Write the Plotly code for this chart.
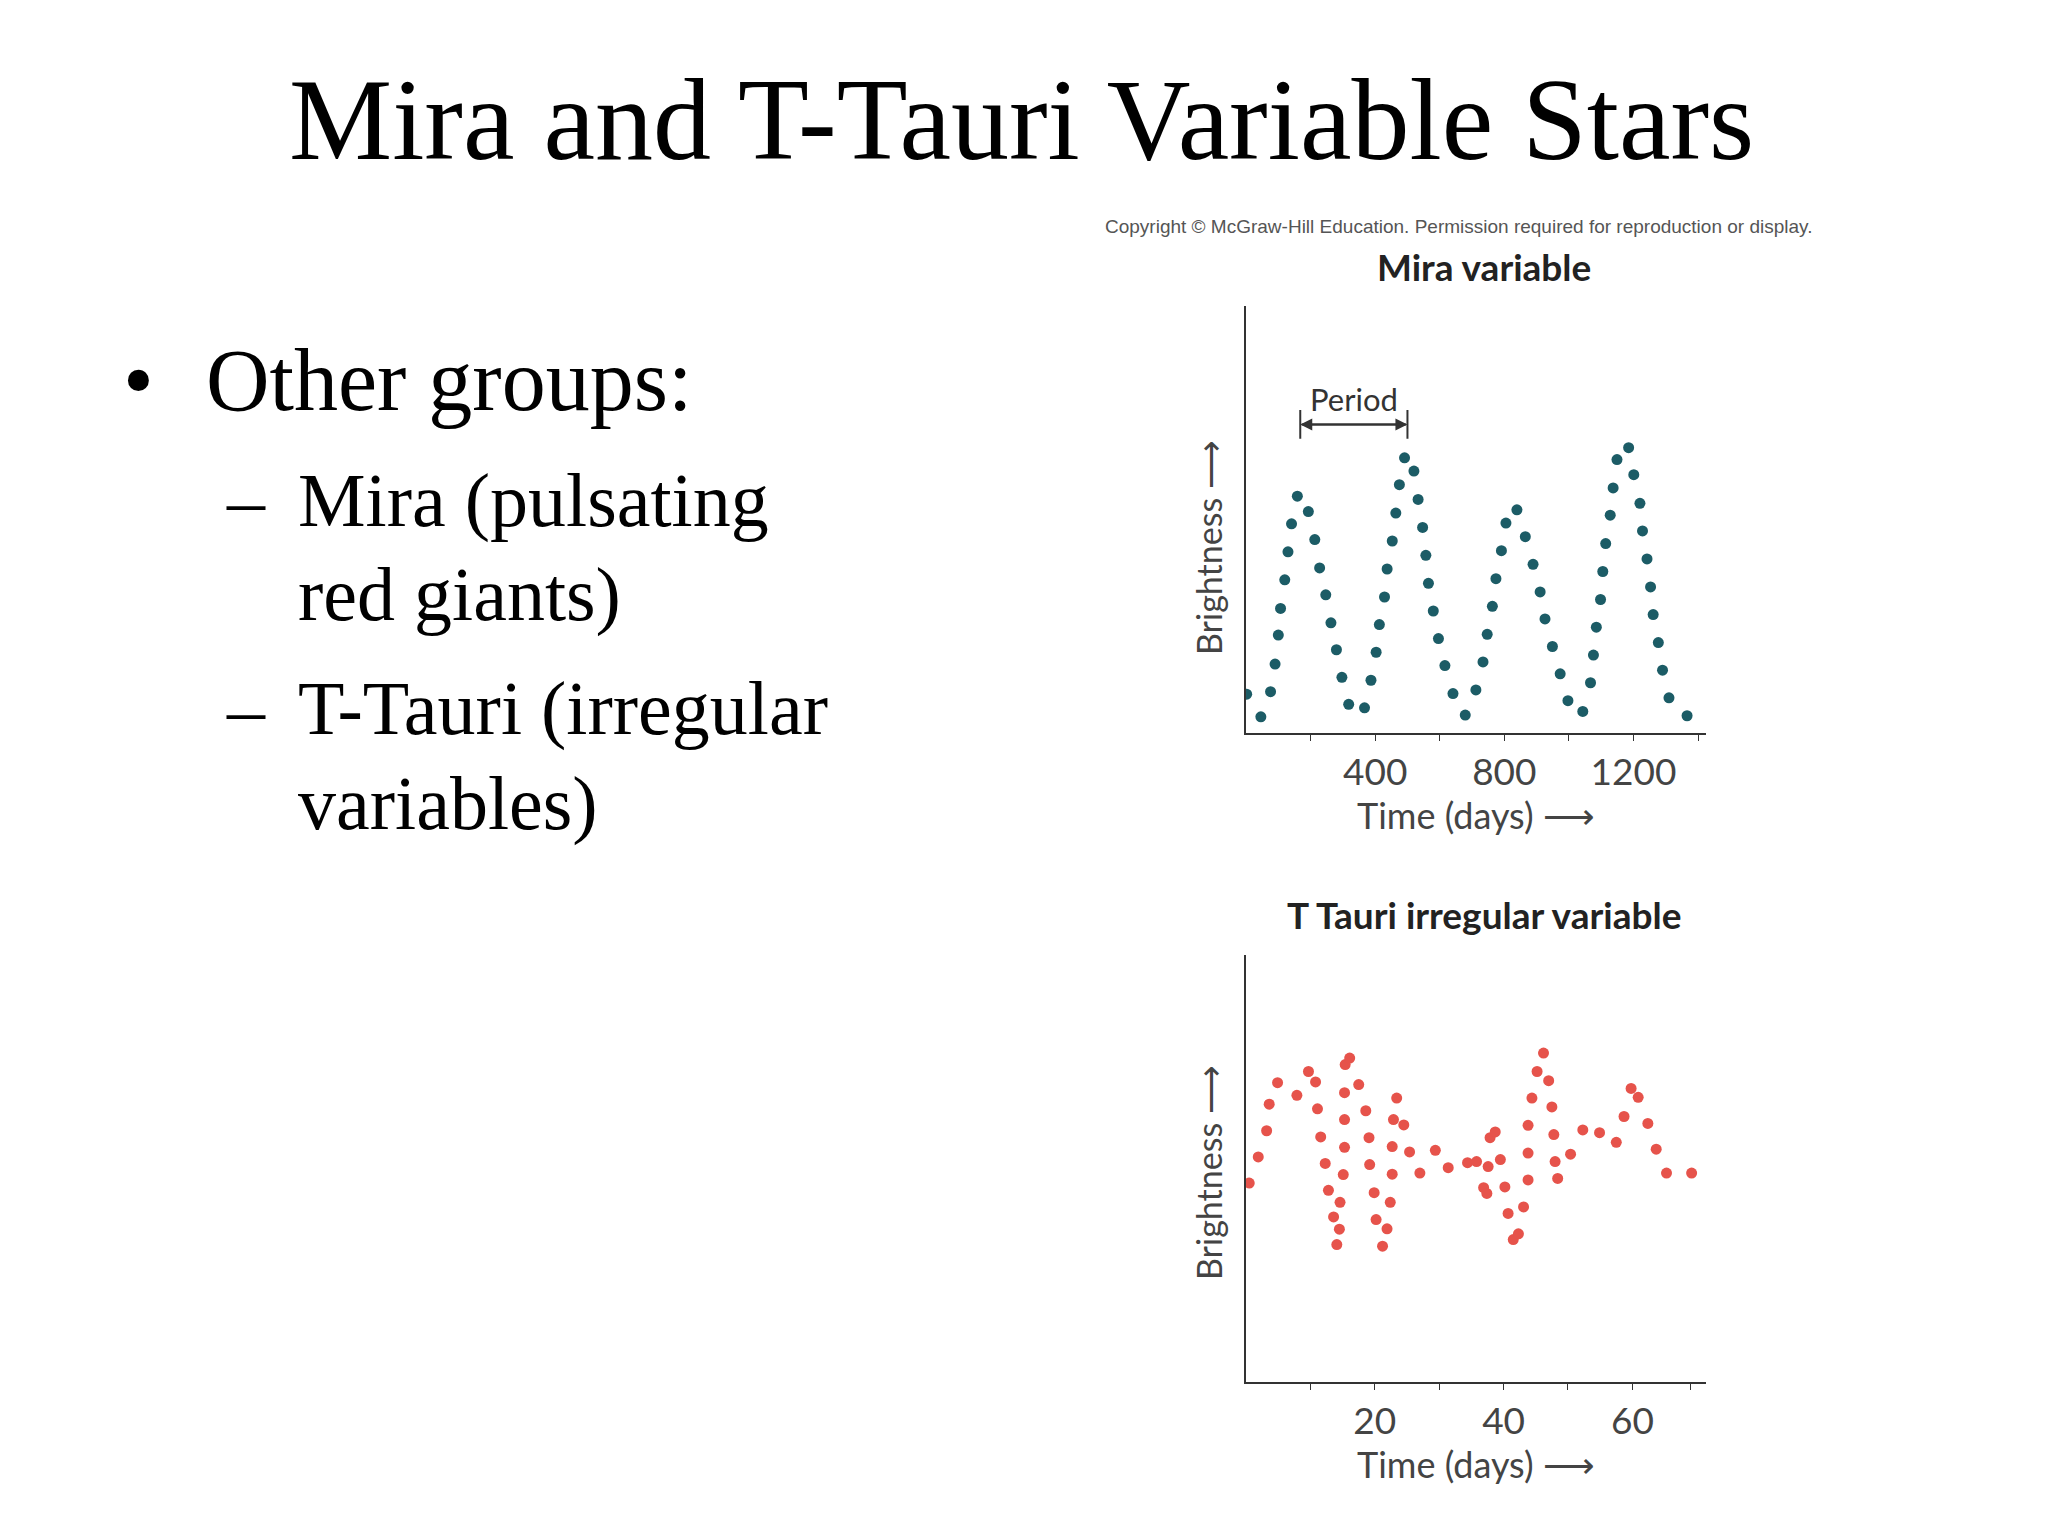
import plotly.graph_objects as go

mira_days = [2,46,76,90,100,107,120,130,141,159,193,213,228,247,263,280,297,318,367,387,403,413,429,437,453,464,475,491,520,533,547,557,565,580,596,616,641,679,712,734,747,763,774,791,805,839,865,889,911,926,949,973,997,1043,1067,1076,1085,1098,1105,1114,1128,1137,1149,1185,1201,1220,1228,1242,1253,1261,1277,1290,1310,1366]
mira_bright = [10.8,4.5,11.5,19.2,27.3,34.7,42.7,50.5,58.3,66,61.7,53.9,46,38.5,30.7,23.2,15.5,8,7,14.7,22.5,30.2,37.9,45.7,53.5,61.3,69.2,76.7,73,65.1,57.3,49.5,41.7,34,26.3,18.8,11,5,12,19.8,27.5,35.3,43,50.8,58.5,62.2,54.7,47,39.3,31.8,24.1,16.5,9,6,14,21.7,29.5,37.2,45,52.8,60.7,68.3,76.2,79.5,72,64,56.3,48.5,40.7,33,25.2,17.5,9.8,4.8]

tt_days = [0.5,1.9,3.2,3.6,4.9,7.9,9.7,10.8,11.1,11.6,12.3,12.8,13.6,14.5,14.1,14.6,15.1,15.3,15.3,15.3,15.4,16.1,17.5,18.6,19.1,19.2,19.9,20.2,21.2,21.9,22.4,22.7,22.7,22.9,23.4,24.5,25.4,27.0,29.4,31.4,34.4,35.8,37.6,36.9,37.4,37.9,38.7,39.5,40.2,40.7,41.5,42.3,43.1,43.8,43.8,43.8,44.4,45.2,46.2,47.0,47.5,47.8,48.0,48.4,50.4,52.3,54.9,57.5,58.7,59.8,60.9,62.4,63.7,65.3,69.2]
tt_bright = [51.7,58.5,65.3,72.2,77.8,74.5,80.7,78,71,63.7,56.8,49.8,42.9,39.7,35.7,46.7,53.9,61,68.2,75.2,82.5,84.2,77.3,70.5,63.5,56.5,49.2,42.2,35.3,39.8,46.7,54,61.2,68.2,73.8,66.8,59.8,54.3,60.2,55.7,57,57.3,56,50.5,49,63.5,65,57.8,50.7,43.8,37,38.5,45.5,52.5,59.5,66.7,73.8,80.7,85.5,78.3,71.5,64.3,57.3,52.9,59.2,65.5,64.8,62.3,69,76.3,74,67.2,60.5,54.3,54.3]

mira_ticks = [400, 800, 1200]
tt_ticks = [20, 40, 60]
period_start, period_end, period_level = 168, 500, 86

AX = "#333333"
FONT = "Lato"
SERIF = "Liberation Serif"

fig = go.Figure()
fig.add_trace(go.Scatter(x=mira_days, y=mira_bright, mode="markers",
                         marker=dict(size=11, color="#1c5c66"), xaxis="x", yaxis="y", showlegend=False))
fig.add_trace(go.Scatter(x=tt_days, y=tt_bright, mode="markers",
                         marker=dict(size=11, color="#e6534b"), xaxis="x2", yaxis="y2", showlegend=False))

def xax(dom, rng, ticks, minor, anchor):
    return dict(domain=dom, range=rng, tickvals=ticks, showgrid=False, zeroline=False,
                showline=True, linecolor=AX, linewidth=2, ticks="outside", ticklen=6,
                tickcolor=AX, tickfont=dict(family=FONT, size=37, color="#444"), anchor=anchor,
                minor=dict(tickvals=minor, ticks="outside", ticklen=6, tickcolor=AX),
                title=dict(text="Time (days) ⟶", font=dict(family=FONT, size=36, color="#444"), standoff=8))

def yax(dom, rng, anchor):
    return dict(domain=dom, range=rng, showticklabels=False, showgrid=False, zeroline=False,
                showline=True, linecolor=AX, linewidth=2, ticks="", anchor=anchor)

fig.update_layout(
    width=2048, height=1536, paper_bgcolor="white", plot_bgcolor="white",
    margin=dict(l=0, r=0, t=0, b=0),
    xaxis=xax([0.6045, 0.829], [0, 1424], mira_ticks, [200, 600, 1000, 1400], "y"),
    yaxis=yax([0.528, 0.806], [0, 119], "x"),
    xaxis2=xax([0.6045, 0.829], [0, 71.4], tt_ticks, [10, 30, 50, 69], "y2"),
    yaxis2=yax([0.1055, 0.3835], [0, 111], "x2"),
)

ann = [
    dict(text="Mira and T-Tauri Variable Stars", x=0.495, y=112, font=dict(family=SERIF, size=116, color="black")),
    dict(text="Copyright © McGraw-Hill Education. Permission required for reproduction or display.",
         x=1450/2048, y=218, font=dict(family="Liberation Sans", size=19, color="#555")),
    dict(text="<b>Mira variable</b>", x=1476/2048, y=258, font=dict(family=FONT, size=37, color="#222")),
    dict(text="<b>T Tauri irregular variable</b>", x=1476/2048, y=906, font=dict(family=FONT, size=37, color="#222")),
    dict(text="Brightness ⟶", x=1200/2048, y=540, textangle=-90, font=dict(family=FONT, size=34, color="#444")),
    dict(text="Brightness ⟶", x=1200/2048, y=1165, textangle=-90, font=dict(family=FONT, size=34, color="#444")),
]
annotations = []
for a in ann:
    d = dict(xref="paper", yref="paper", showarrow=False, xanchor="center", yanchor="middle")
    d.update(a)
    d["y"] = 1 - a["y"] / 1536
    annotations.append(d)

bul = [
    ("•", 130, 372, 88), ("Other groups:", 196, 372, 88),
    ("–", 238, 492, 76), ("Mira (pulsating", 288, 492, 76),
    ("red giants)", 288, 586, 76),
    ("–", 238, 701, 76), ("T-Tauri (irregular", 288, 701, 76),
    ("variables)", 288, 795, 76),
]
for t, x, y, s in bul:
    annotations.append(dict(text=t, x=x/2048, y=1-y/1536, xref="paper", yref="paper", showarrow=False,
                            xanchor="left" if t not in "•–" else "center", yanchor="middle",
                            font=dict(family=SERIF, size=s, color="black")))

annotations.append(dict(text="Period", x=(period_start+period_end)/2, y=period_level+7, xref="x", yref="y",
                        showarrow=False, font=dict(family=FONT, size=31, color="#333")))
annotations.append(dict(x=period_end, y=period_level, ax=period_start, ay=period_level, xref="x", yref="y",
                        axref="x", ayref="y", showarrow=True, arrowhead=2, arrowsize=1.2, arrowwidth=2,
                        arrowcolor="#333", text=""))
annotations.append(dict(x=period_start, y=period_level, ax=period_end, ay=period_level, xref="x", yref="y",
                        axref="x", ayref="y", showarrow=True, arrowhead=2, arrowsize=1.2, arrowwidth=2,
                        arrowcolor="#333", text=""))
fig.update_layout(annotations=annotations)
for xv in (period_start, period_end):
    fig.add_shape(type="line", x0=xv, x1=xv, y0=period_level-4, y1=period_level+4, xref="x", yref="y",
                  line=dict(color="#333", width=2))

fig.write_html("out.html")
